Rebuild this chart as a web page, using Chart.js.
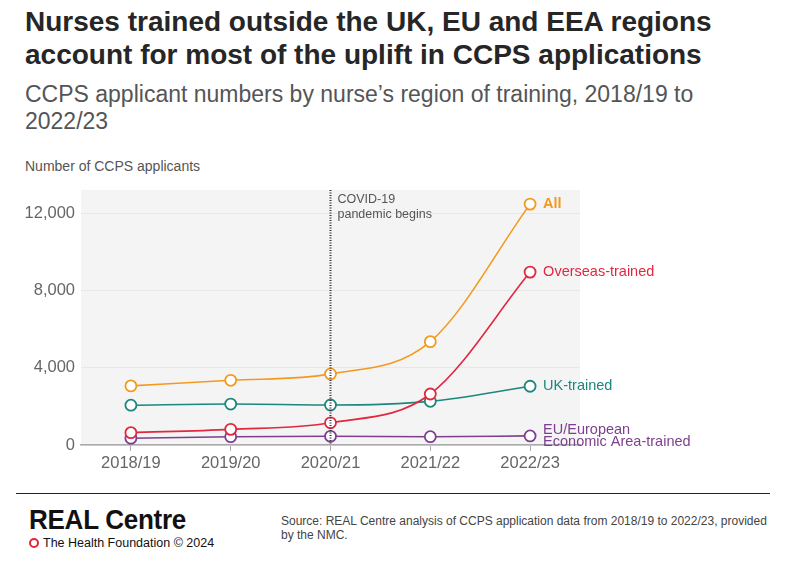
<!DOCTYPE html>
<html>
<head>
<meta charset="utf-8">
<script src="https://cdn.jsdelivr.net/npm/chart.js@4.4.1/dist/chart.umd.min.js"></script>
<style>
  html, body { margin: 0; padding: 0; background: #fff; }
  body { width: 808px; height: 581px; position: relative; overflow: hidden; font-family: 'Liberation Sans', Arial, sans-serif; }
  .title { position: absolute; left: 25px; top: 5px; width: 720px; font-size: 28px; font-weight: bold; line-height: 33px; color: #262626; }
  .subtitle { position: absolute; left: 25px; top: 81px; width: 700px; font-size: 23px; line-height: 27px; color: #555; }
  .ytitle { position: absolute; left: 25px; top: 158px; font-size: 14px; color: #555; }
  #wrap { position: absolute; left: 0; top: 180px; width: 808px; height: 300px; }
  .rule { position: absolute; left: 16px; top: 493px; width: 754px; height: 0; border-top: 1.5px solid #222; }
  .brand { position: absolute; left: 29px; top: 504px; font-weight: bold; font-size: 28px; color: #111; transform: scaleX(0.93); transform-origin: left top; letter-spacing: -0.3px; }
  .hf { position: absolute; left: 29px; top: 536px; font-size: 12.5px; color: #111; }
  .hf .dot { display: inline-block; width: 6px; height: 6px; border: 2px solid #e1263c; border-radius: 50%; margin-right: 4px; vertical-align: -1px; }
  .source { position: absolute; left: 281px; top: 514px; width: 500px; font-size: 12px; line-height: 14px; color: #444; }
</style>
</head>
<body>
<div class="title">Nurses trained outside the UK, EU and EEA regions account for most of the uplift in CCPS applications</div>
<div class="subtitle">CCPS applicant numbers by nurse’s region of training, 2018/19 to 2022/23</div>
<div class="ytitle">Number of CCPS applicants</div>
<div id="wrap"><canvas id="chart"></canvas></div>
<div class="rule"></div>
<div class="brand">REAL Centre</div>
<div class="hf"><span class="dot"></span>The Health Foundation © 2024</div>
<div class="source">Source: REAL Centre analysis of CCPS application data from 2018/19 to 2022/23, provided by the NMC.</div>
<script>
const years = ['2018/19', '2019/20', '2020/21', '2021/22', '2022/23'];
const allApplicants = [3060, 3350, 3680, 5350, 12470];
const overseasTrained = [640, 810, 1150, 2640, 8950];
const ukTrained = [2060, 2120, 2070, 2260, 3040];
const euTrained = [350, 430, 450, 430, 470];
const yTicks = [0, 4000, 8000, 12000];
const covidYear = '2020/21';

const COLORS = {
  all: '#f39a1e',
  overseas: '#e0283f',
  uk: '#1c877c',
  eu: '#7d3f8e',
  grid: '#e7e7e7',
  panel: '#f4f4f4',
  tick: '#666',
};

const FONT = "'Liberation Sans', Arial, sans-serif";

const seriesLabels = [
  { text: ['All'], bold: true },
  { text: ['Overseas-trained'], bold: false },
  { text: ['UK-trained'], bold: false },
  { text: ['EU/European', 'Economic Area-trained'], bold: false },
];

function line(label, data, color) {
  return {
    label,
    data,
    borderColor: color,
    backgroundColor: '#fff',
    pointBackgroundColor: '#fff',
    pointBorderColor: color,
    pointBorderWidth: 1.8,
    pointRadius: 5.5,
    borderWidth: 1.6,
    cubicInterpolationMode: 'monotone',
  };
}

const panelBg = {
  id: 'panelBg',
  beforeDraw(chart) {
    const { ctx, chartArea: a } = chart;
    ctx.save();
    ctx.fillStyle = COLORS.panel;
    ctx.fillRect(a.left, a.top, a.right - a.left, a.bottom - a.top);
    ctx.restore();
  },
};

const covidLine = {
  id: 'covidLine',
  afterDatasetsDraw(chart) {
    const { ctx, chartArea: a } = chart;
    const x = chart.scales.x.getPixelForValue(years.indexOf(covidYear));
    ctx.save();
    ctx.strokeStyle = '#333';
    ctx.lineWidth = 2;
    ctx.setLineDash([1, 1.5]);
    ctx.beginPath();
    ctx.moveTo(x, a.top);
    ctx.lineTo(x, a.bottom);
    ctx.stroke();
    ctx.setLineDash([]);
    ctx.fillStyle = '#555';
    ctx.font = `12.5px ${FONT}`;
    ctx.textBaseline = 'middle';
    ctx.fillText('COVID-19', x + 7, a.top + 10);
    ctx.fillText('pandemic begins', x + 7, a.top + 25);
    ctx.restore();
  },
};

const endLabels = {
  id: 'endLabels',
  afterDatasetsDraw(chart) {
    const { ctx } = chart;
    ctx.save();
    ctx.textBaseline = 'middle';
    chart.data.datasets.forEach((ds, i) => {
      const meta = chart.getDatasetMeta(i);
      const pt = meta.data[meta.data.length - 1];
      const lab = seriesLabels[i];
      ctx.font = `${lab.bold ? 'bold ' : ''}14.5px ${FONT}`;
      ctx.fillStyle = ds.borderColor;
      const lh = 12;
      const y0 = pt.y - (lab.text.length - 1) * lh / 2;
      lab.text.forEach((t, j) => ctx.fillText(t, pt.x + 13, y0 + j * lh));
    });
    ctx.restore();
  },
};

new Chart(document.getElementById('chart'), {
  type: 'line',
  data: {
    labels: years,
    datasets: [
      line('All', allApplicants, COLORS.all),
      line('Overseas-trained', overseasTrained, COLORS.overseas),
      line('UK-trained', ukTrained, COLORS.uk),
      line('EU/European Economic Area-trained', euTrained, COLORS.eu),
    ],
  },
  options: {
    responsive: true,
    maintainAspectRatio: false,
    animation: false,
    layout: { padding: { left: 0, right: 228, top: 10, bottom: 0 } },
    plugins: { legend: { display: false }, tooltip: { enabled: false } },
    scales: {
      x: {
        offset: true,
        afterFit: (s) => { s.height = 35; },
        grid: { drawOnChartArea: false, drawTicks: true, tickLength: 6, color: '#aaa', offset: false },
        border: { display: true, color: '#aaa', width: 1.5 },
        ticks: { color: COLORS.tick, font: { size: 16.5, family: FONT }, padding: 3 },
      },
      y: {
        min: 0,
        max: 13200,
        afterFit: (s) => { s.width = 81; s.paddingTop = 0; s.paddingBottom = 0; },
        afterBuildTicks: (s) => { s.ticks = yTicks.map((v) => ({ value: v })); },
        grid: { color: COLORS.grid, drawTicks: false },
        border: { display: false },
        ticks: {
          color: COLORS.tick,
          padding: 6,
          font: { size: 16.5, family: FONT },
          callback: (v) => v.toLocaleString('en-GB'),
        },
      },
    },
  },
  plugins: [panelBg, covidLine, endLabels],
});
</script>
</body>
</html>
